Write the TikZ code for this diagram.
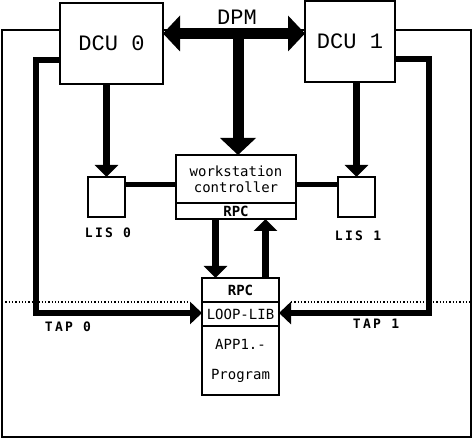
\documentclass[tikz,border=0pt]{standalone}
\usepackage{fontspec}
\newfontfamily\dcufont{Liberation Mono}
\newfontfamily\wsfont{DejaVu Sans Mono}
\newfontfamily\labfont[LetterSpace=18]{DejaVu Sans Mono}
\usetikzlibrary{arrows.meta}
\begin{document}
\begin{tikzpicture}[x=1pt,y=-1pt,
  box/.style={draw,line width=1.1pt,fill=white,inner sep=0pt,outer sep=0pt,align=center},
  dcubox/.style={box,font=\dcufont\fontsize{22}{24}\selectfont},
  wsbox/.style={box,font=\wsfont\fontsize{14}{16}\selectfont},
  rpcbox/.style={box,font=\wsfont\bfseries\fontsize{14}{16}\selectfont},
  lab/.style={inner sep=0pt,font=\labfont\bfseries\fontsize{13}{15}\selectfont},
  bigarrow/.style={line width=11pt,-{Triangle[length=17pt,width=35pt]}},
  bigdouble/.style={line width=11pt,{Triangle[length=17pt,width=35pt]}-{Triangle[length=17pt,width=35pt]}},
  medarrow/.style={line width=7pt,-{Triangle[length=12pt,width=23pt]}},
  loopline/.style={line width=6pt,line join=miter,-{Triangle[length=12pt,width=22pt]}},
  link/.style={line width=5pt},
  dotline/.style={line width=1.1pt,dash pattern=on 1.3pt off 2pt}]
\useasboundingbox (0,0) rectangle (474,438);
% outer frame
\node[draw,line width=1.6pt,minimum width=469pt,minimum height=407pt,inner sep=0pt,outer sep=0pt] (frame) at (236.5,233.5) {};
% boxes
\node[dcubox,minimum width=103pt,minimum height=81pt] (dcu0) at (111.5,43.5) {DCU 0};
\node[dcubox,minimum width=90pt,minimum height=81pt] (dcu1) at (350,41.5) {DCU 1};
\node[wsbox,minimum width=120pt,minimum height=48pt] (wstop) at (236,179) {workstation\\controller};
\node[rpcbox,minimum width=120pt,minimum height=16pt] (wsrpc) at (236,211) {RPC};
\node[box,minimum width=37pt,minimum height=40pt] (lis0) at (106.5,197) {};
\node[box,minimum width=37pt,minimum height=40pt] (lis1) at (356.5,197) {};
\node[rpcbox,minimum width=77pt,minimum height=24pt] (apprpc) at (240.5,290) {RPC};
\node[wsbox,minimum width=77pt,minimum height=24pt] (applib) at (240.5,314) {LOOP-LIB};
\node[wsbox,minimum width=77pt,minimum height=69pt] (appprog) at (240.5,360.5) {APP1.-\\[14pt]Program};
% labels
\node[inner sep=0pt,font=\dcufont\fontsize{22}{24}\selectfont] (dpm) at (237,17) {DPM};
\node[lab] (lis0lab) at (108,233) {LIS 0};
\node[lab] (lis1lab) at (358,236) {LIS 1};
\node[lab] (tap0lab) at (68,327) {TAP 0};
\node[lab] (tap1lab) at (376,324) {TAP 1};
% dotted line
\draw[dotline] (frame.west |- applib.north) -- ([xshift=-12pt]applib.north west);
\draw[dotline] ([xshift=12pt]applib.north east) -- (frame.east |- applib.north);
% loop lines (TAP)
\draw[loopline] ([yshift=-16.5pt]dcu0.west) -- ++(-24,0) |- ([yshift=1pt]applib.west);
\draw[loopline] ([yshift=-17.5pt]dcu1.east) -- ++(33.5,0) |- ([yshift=1pt]applib.east);
% DPM
\draw[bigdouble] ([yshift=10pt]dcu0.east) -- ([yshift=8pt]dcu1.west);
\coordinate (dpmjoin) at (238,33.5);
\draw[bigarrow] (dpmjoin) -- (dpmjoin |- wstop.north);
% DCU -> LIS
\draw[medarrow] (lis0.north |- dcu0.south) -- (lis0.north);
\draw[medarrow] (lis1.north |- dcu1.south) -- (lis1.north);
% LIS - workstation
\draw[link] ([yshift=12pt]lis0.east) -- ([yshift=12pt]lis0.east -| wstop.west);
\draw[link] ([yshift=12pt]lis1.west) -- ([yshift=12pt]lis1.west -| wstop.east);
% RPC arrows
\draw[medarrow] ([xshift=-25pt]apprpc.north |- wsrpc.south) -- ([xshift=-25pt]apprpc.north);
\draw[medarrow] ([xshift=25pt]apprpc.north) -- ([xshift=25pt]apprpc.north |- wsrpc.south);
\end{tikzpicture}
\end{document}
